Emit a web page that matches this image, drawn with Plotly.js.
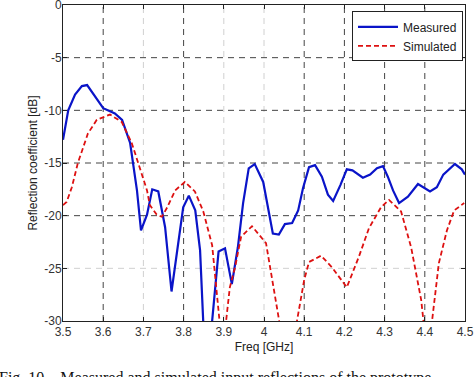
<!DOCTYPE html>
<html>
<head>
<meta charset="utf-8">
<script src="https://cdn.plot.ly/plotly-3.0.1.min.js"></script>
<style>html,body{margin:0;padding:0;background:#fff;}#chart{width:474px;height:377px;}</style>
</head>
<body>
<div id="chart"></div>
<script>
// Measured reflection coefficient
const measFreq = [3.500,3.513,3.530,3.547,3.560,3.600,3.629,3.647,3.667,3.684,3.694,3.709,3.722,3.737,3.754,3.770,3.799,3.813,3.829,3.841,3.849,3.860,3.871,3.887,3.903,3.920,3.935,3.948,3.962,3.977,3.998,4.010,4.022,4.037,4.052,4.070,4.085,4.097,4.112,4.127,4.144,4.159,4.172,4.190,4.206,4.220,4.246,4.264,4.281,4.296,4.308,4.321,4.336,4.358,4.383,4.413,4.430,4.446,4.462,4.475,4.492,4.500];
const measDb = [-12.8,-10.0,-8.5,-7.7,-7.6,-9.8,-10.3,-10.9,-13.1,-17.6,-21.4,-19.9,-17.5,-17.7,-21.1,-27.2,-19.2,-18.1,-19.5,-23.3,-30.2,-34.0,-30.0,-23.4,-23.1,-26.5,-23.0,-18.8,-15.5,-15.1,-16.8,-19.3,-21.7,-21.8,-20.8,-20.7,-19.5,-17.4,-15.4,-15.2,-16.3,-18.0,-18.6,-17.1,-15.6,-15.7,-16.4,-16.1,-15.5,-15.3,-16.3,-17.6,-18.8,-18.2,-17.0,-17.7,-17.3,-16.1,-15.5,-15.1,-15.6,-16.1];
// Simulated reflection coefficient
const simFreq = [3.500,3.509,3.522,3.537,3.562,3.584,3.617,3.646,3.671,3.692,3.709,3.716,3.733,3.746,3.758,3.779,3.803,3.828,3.849,3.871,3.886,3.897,3.915,3.928,3.943,3.970,4.005,4.020,4.037,4.060,4.082,4.100,4.112,4.142,4.169,4.206,4.236,4.261,4.291,4.311,4.341,4.366,4.391,4.408,4.418,4.435,4.455,4.473,4.498];
const simDb = [-19.0,-18.7,-17.3,-15.0,-12.2,-10.9,-10.4,-11.1,-13.1,-15.7,-17.6,-19.0,-19.9,-20.1,-19.3,-17.6,-16.8,-17.7,-19.6,-22.8,-28.7,-33.0,-26.8,-24.9,-22.0,-21.0,-22.6,-26.1,-30.0,-35.0,-30.0,-26.1,-24.4,-23.8,-24.9,-26.8,-23.9,-21.2,-19.2,-18.5,-19.6,-23.0,-28.0,-34.0,-30.0,-24.5,-21.4,-19.5,-18.8];
const xTicks = [3.5,3.6,3.7,3.8,3.9,4.0,4.1,4.2,4.3,4.4,4.5];
const xTickText = ['3.5','3.6','3.7','3.8','3.9','4','4.1','4.2','4.3','4.4','4.5'];
const yTicks = [-30,-25,-20,-15,-10,-5,0];
const yTickText = ['-30','-25','-20','-15','-10','-5','0'];
const seriesNames = ['Measured','Simulated'];
const caption = 'Fig. 10.   Measured and simulated input reflections of the prototype';

// grid lines: some print darker than others in the source scan
const lightX = [3.7,3.9,4.0];
const lightY = [-25];
const shapes = [];
xTicks.slice(1,-1).forEach(v => {
  const light = lightX.includes(v);
  shapes.push({type:'line', xref:'x', yref:'paper', x0:v, x1:v, y0:0, y1:1, layer:'below',
    line:{color: light ? '#d0d0d0' : '#444', width:1, dash:'6px,5px'}});
});
yTicks.slice(1,-1).forEach(v => {
  const light = lightY.includes(v);
  shapes.push({type:'line', xref:'paper', yref:'y', x0:0, x1:1, y0:v, y1:v, layer:'below',
    line:{color: light ? '#d0d0d0' : '#444', width:1, dash:'6px,5px'}});
});

const traces = [
  {x: measFreq, y: measDb, name: seriesNames[0], mode:'lines', type:'scatter',
   line:{color:'#0a14c8', width:2.2}},
  {x: simFreq, y: simDb, name: seriesNames[1], mode:'lines', type:'scatter',
   line:{color:'#dd1010', width:1.8, dash:'5px,3px'}}
];

const axisCommon = {
  showgrid:false, zeroline:false, showline:true, linecolor:'#222', linewidth:1,
  mirror:'ticks', ticks:'inside', ticklen:4, tickcolor:'#222',
  ticklabeloverflow:'allow',
  tickfont:{family:'Liberation Sans, Arial, sans-serif', size:12, color:'#333'}
};

const layout = {
  width:474, height:377,
  margin:{l:63, r:9, t:5, b:56},
  paper_bgcolor:'#fff', plot_bgcolor:'#fff',
  showlegend:true,
  legend:{x:0.995, xanchor:'right', y:0.98, yanchor:'top', bgcolor:'#fff',
    bordercolor:'#222', borderwidth:1,
    font:{family:'Liberation Sans, Arial, sans-serif', size:12, color:'#222'},
    tracegroupgap:0, itemwidth:40},
  xaxis: Object.assign({}, axisCommon, {
    range:[3.5,4.5], tickvals:xTicks, ticktext:xTickText,
    title:{text:'Freq [GHz]', standoff:4,
      font:{family:'Liberation Sans, Arial, sans-serif', size:12, color:'#222'}}
  }),
  yaxis: Object.assign({}, axisCommon, {
    range:[-30,0], tickvals:yTicks, ticktext:yTickText, ticklabelstandoff:-2,
    title:{text:'Reflection coefficient [dB]', standoff:4,
      font:{family:'Liberation Sans, Arial, sans-serif', size:12, color:'#222'}}
  }),
  shapes: shapes,
  annotations:[{text:caption, xref:'paper', yref:'paper', x:-0.165, xanchor:'left',
    y:-0.145, yanchor:'top', showarrow:false,
    font:{family:'Liberation Serif, Times New Roman, serif', size:16, color:'#111'}}]
};

Plotly.newPlot('chart', traces, layout, {displayModeBar:false, staticPlot:true});
</script>
</body>
</html>
